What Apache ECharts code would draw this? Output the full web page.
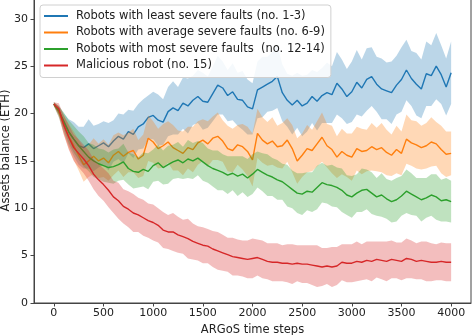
<!DOCTYPE html>
<html>
<head>
<meta charset="utf-8">
<script src="https://cdn.jsdelivr.net/npm/echarts@6/dist/echarts.min.js"></script>
<style>html,body{margin:0;padding:0;background:#fff}#c{width:474px;height:335px}</style>
</head>
<body>
<div id="c"></div>
<script>
// Sample grid: ARGoS time steps, every 50 steps from 0 to 4000
var stepStart = 0, stepEnd = 4000, stepSize = 50;
var xTicks = [0, 500, 1000, 1500, 2000, 2500, 3000, 3500, 4000];
var yTicks = [0, 5, 10, 15, 20, 25, 30];

var seriesNames = [
  'Robots with least severe faults (no. 1-3)',
  'Robots with average severe faults (no. 6-9)',
  'Robots with most severe faults  (no. 12-14)',
  'Malicious robot (no. 15)'
];
var seriesColors = ['#1f77b4', '#ff7f0e', '#2ca02c', '#d62728'];

var leastMean = [
  21, 20.2, 19, 18, 17.3, 16.6, 16.4, 16.8, 16.3, 16.6,
  16.9, 16.5, 17.1, 17.6, 17.3, 18.1, 17.8, 18.6, 18.9, 19.6,
  19.8, 19.3, 19.1, 20.2, 20.6, 20.3, 21.1, 20.8, 21.4, 21.8,
  21.3, 21.2, 22.1, 23.0, 22.7, 21.9, 22.3, 21.5, 21.4, 20.7,
  20.5, 22.5, 22.8, 23.1, 23.4, 23.9, 22.2, 21.4, 20.9, 21.4,
  20.8, 21.1, 21.8, 21.3, 21.9, 22.2, 22.0, 23.2, 22.6, 21.8,
  22.3, 23.3, 22.7, 23.6, 23.9, 23.1, 22.6, 22.4, 22.2, 23.0,
  23.6, 24.6, 23.7, 23.1, 22.6, 24.2, 24.0, 25.0, 24.1, 22.8,
  24.3
];
var leastSpread = [
  0.2, 0.6, 1.0, 1.4, 1.8, 2.0, 2.2, 2.6, 2.4, 2.3,
  2.3, 2.5, 2.2, 2.4, 2.6, 2.3, 2.5, 2.4, 2.6, 2.3,
  2.5, 2.7, 2.4, 2.6, 2.8, 2.5, 2.7, 2.9, 2.6, 2.8,
  3.0, 2.7, 2.9, 3.1, 2.8, 2.7, 3.0, 2.8, 3.1, 2.9,
  2.7, 3.0, 3.2, 2.9, 3.1, 3.3, 3.0, 2.8, 3.1, 2.9,
  3.2, 3.0, 2.8, 3.1, 2.9, 3.2, 3.0, 3.3, 3.1, 2.9,
  3.2, 3.4, 3.0, 3.3, 3.1, 2.9, 3.2, 3.0, 3.3, 3.1,
  3.4, 3.2, 2.9, 3.3, 3.1, 3.4, 3.2, 3.5, 3.1, 3.0,
  3.3
];
var averageMean = [
  21, 20.2, 18.8, 17.6, 16.6, 15.6, 14.6, 15.0, 15.5, 15.0,
  15.3, 14.8, 15.6, 16.0, 15.5, 15.9, 16.1, 15.2, 15.6, 17.4,
  17.0, 16.3, 16.6, 17.0, 16.4, 16.1, 15.8, 16.4, 16.2, 16.9,
  17.2, 16.8, 17.4, 17.6, 17.1, 16.3, 16.1, 16.7, 16.5, 16.0,
  15.1, 17.9, 17.2, 16.8, 17.1, 16.5, 16.6, 17.2, 16.3, 15.0,
  15.6, 16.3, 16.1, 16.8, 17.5, 16.6, 16.2, 15.4, 16.0, 15.6,
  15.4, 16.3, 16.0, 16.1, 16.5, 16.2, 16.4, 15.9, 15.6, 16.2,
  15.8, 17.3, 16.9, 16.7, 16.4, 16.6, 17.0, 16.8, 16.2, 15.7,
  15.8
];
var averageSpread = [
  0.2, 0.6, 1.0, 1.3, 1.5, 1.6, 1.8, 1.7, 1.9, 1.8,
  2.0, 1.9, 2.1, 2.0, 2.2, 2.1, 2.3, 2.0, 2.2, 2.4,
  2.2, 2.1, 2.3, 2.2, 2.4, 2.1, 2.3, 2.2, 2.4, 2.3,
  2.2, 2.4, 2.3, 2.5, 2.2, 2.4, 2.3, 2.1, 2.4, 2.6,
  2.8, 2.6, 2.4, 2.3, 2.5, 2.2, 2.4, 2.3, 2.5, 2.4,
  2.3, 2.5, 2.2, 2.4, 2.6, 2.3, 2.5, 2.2, 2.4, 2.3,
  2.5, 2.3, 2.4, 2.2, 2.5, 2.3, 2.6, 2.4, 2.2, 2.5,
  2.3, 2.6, 2.4, 2.5, 2.3, 2.4, 2.6, 2.3, 2.5, 2.4,
  2.3
];
var mostMean = [
  21, 20.3, 19.2, 18.1, 17.3, 16.6, 16.0, 15.4, 15.0, 14.7,
  14.5, 14.3, 14.4, 14.6, 14.9, 14.2, 13.9, 13.8, 14.1, 13.9,
  14.5, 14.8, 14.3, 14.6, 14.9, 15.1, 14.8, 15.2, 15.0, 15.3,
  14.9, 14.5, 14.2, 14.0, 13.8, 13.5, 13.7, 13.4, 13.6, 13.2,
  13.6, 14.1, 13.8, 13.5, 13.3, 13.0, 12.8, 12.4, 12.0, 11.6,
  11.5, 11.8, 11.7, 12.2, 12.7, 12.5, 12.4, 12.2, 11.9, 11.4,
  11.2, 11.6, 11.9, 12.0, 11.6, 11.2, 11.4, 11.0, 10.7, 10.9,
  11.3, 11.8, 11.5, 11.2, 10.9, 11.1, 11.4, 11.2, 10.8, 10.9,
  10.7
];
var mostSpread = [
  0.2, 0.5, 0.9, 1.2, 1.4, 1.5, 1.6, 1.5, 1.7, 1.6,
  1.7, 1.6, 1.8, 1.7, 1.9, 1.7, 1.8, 1.6, 1.8, 1.9,
  1.7, 1.9, 1.8, 2.0, 1.8, 1.9, 1.7, 2.0, 1.9, 1.8,
  2.0, 1.8, 1.9, 2.1, 1.9, 2.0, 1.8, 2.1, 1.9, 2.0,
  2.1, 1.9, 2.0, 2.2, 2.0, 2.1, 1.9, 2.2, 2.0, 2.1,
  2.2, 2.0, 2.1, 2.3, 2.1, 2.0, 2.2, 2.1, 2.3, 2.1,
  2.2, 2.0, 2.3, 2.1, 2.2, 2.0, 2.3, 2.1, 2.2, 2.3,
  2.1, 2.3, 2.2, 2.0, 2.3, 2.1, 2.2, 2.4, 2.2, 2.3,
  2.2
];
var maliciousMean = [
  21, 20.5, 18.8, 17.5, 16.4, 15.8, 15.2, 14.5, 13.6, 13.0,
  12.5, 11.9, 11.2, 10.8, 10.2, 9.9, 9.5, 9.3, 9.0, 8.7,
  8.5, 8.2, 7.7, 7.5, 7.5, 7.2, 7.0, 6.8, 6.5, 6.3,
  6.1, 6.0, 5.7, 5.5, 5.3, 5.1, 4.9, 4.8, 4.7, 4.6,
  4.7, 4.8, 4.6, 4.4, 4.3, 4.3, 4.2, 4.2, 4.1, 4.2,
  4.1, 4.1, 4.0, 3.9, 3.8, 3.9, 3.8, 3.9, 4.3, 4.2,
  4.2, 4.4, 4.3, 4.5, 4.4, 4.6, 4.5, 4.4, 4.6, 4.5,
  4.4, 4.7, 4.6, 4.4, 4.5, 4.4, 4.3, 4.3, 4.4, 4.3,
  4.3
];
var maliciousSpread = [
  0.2, 0.6, 1.0, 1.3, 1.4, 1.5, 1.5, 1.6, 1.6, 1.7,
  1.7, 1.8, 1.7, 1.9, 1.8, 1.9, 2.0, 1.8, 1.9, 1.8,
  1.9, 1.8, 1.9, 1.8, 2.0, 1.9, 1.8, 2.1, 1.9, 1.8,
  1.9, 1.8, 1.9, 2.0, 1.9, 1.8, 2.0, 1.9, 1.9, 2.0,
  2.1, 1.9, 2.0, 1.9, 2.0, 2.0, 1.9, 2.0, 2.1, 1.9,
  2.0, 2.0, 2.1, 2.2, 2.0, 1.9, 2.1, 2.0, 1.9, 2.0,
  2.0, 2.1, 1.9, 2.0, 2.1, 1.9, 2.0, 2.1, 2.0, 1.9,
  2.0, 2.1, 2.0, 1.9, 2.0, 2.1, 2.0, 1.9, 2.0, 2.0,
  2.0
];

var means = [leastMean, averageMean, mostMean, maliciousMean];
var spreads = [leastSpread, averageSpread, mostSpread, maliciousSpread];

var steps = [];
for (var s = stepStart; s <= stepEnd; s += stepSize) steps.push(s);

var FONT = 'DejaVu Sans';
var series = [];
means.forEach(function (m, k) {
  var sp = spreads[k];
  var color = seriesColors[k];
  series.push({
    name: 'band' + k, type: 'custom', coordinateSystem: 'cartesian2d',
    data: [[0, 0]], silent: true, z: 2 + k * 2,
    renderItem: function (params, api) {
      var pts = [];
      for (var i = 0; i < m.length; i++) pts.push(api.coord([steps[i], m[i] + sp[i]]));
      for (var j = m.length - 1; j >= 0; j--) pts.push(api.coord([steps[j], m[j] - sp[j]]));
      return { type: 'polygon', shape: { points: pts }, style: { fill: color, opacity: 0.3 } };
    }
  });
  series.push({
    name: seriesNames[k], type: 'line',
    data: m.map(function (v, i) { return [steps[i], v]; }),
    symbol: 'none', lineStyle: { color: color, width: 1.4 },
    itemStyle: { color: color }, z: 3 + k * 2
  });
});

function plain(v) { return String(v); }

var chart = echarts.init(document.getElementById('c'), null, { renderer: 'canvas' });
chart.setOption({
  animation: false,
  backgroundColor: '#fff',
  grid: {
    left: 34, right: 3, top: -2, bottom: 32, show: true, borderColor: '#444', borderWidth: 1,
    backgroundColor: 'transparent', containLabel: false, outerBoundsMode: 'none'
  },
  legend: {
    data: seriesNames,
    orient: 'vertical', left: 40, top: 5,
    padding: [5, 6, 6, 4],
    itemWidth: 24, itemHeight: 2, itemGap: 4.5,
    icon: 'rect',
    backgroundColor: 'rgba(255,255,255,0.85)',
    borderColor: '#d0d0d0', borderWidth: 1, borderRadius: 3,
    textStyle: { fontFamily: FONT, fontSize: 11.5, color: '#222', lineHeight: 12, padding: [0, 0, 0, 3] }
  },
  xAxis: {
    type: 'value', min: -200, max: 4200,
    name: 'ARGoS time steps', nameLocation: 'middle', nameGap: 21, nameMoveOverlap: false,
    nameTextStyle: { fontFamily: FONT, fontSize: 11.5, color: '#222' },
    axisLine: { show: true, onZero: false, lineStyle: { color: '#444', width: 1 } },
    axisTick: { show: true, customValues: xTicks, length: 3.5, lineStyle: { color: '#444' } },
    axisLabel: { customValues: xTicks, formatter: plain, fontFamily: FONT, fontSize: 11, color: '#222', margin: 5 },
    splitLine: { show: false }
  },
  yAxis: {
    type: 'value', min: 0, max: 32.2,
    name: 'Assets balance (ETH)', nameLocation: 'middle', nameGap: 22, nameMoveOverlap: false,
    nameTextStyle: { fontFamily: FONT, fontSize: 11.5, color: '#222' },
    axisLine: { show: true, onZero: false, lineStyle: { color: '#444', width: 1 } },
    axisTick: { show: true, customValues: yTicks, length: 3.5, lineStyle: { color: '#444' } },
    axisLabel: { customValues: yTicks, formatter: plain, fontFamily: FONT, fontSize: 11, color: '#222', margin: 6, hideOverlap: false },
    splitLine: { show: false }
  },
  series: series
});
</script>
</body>
</html>
